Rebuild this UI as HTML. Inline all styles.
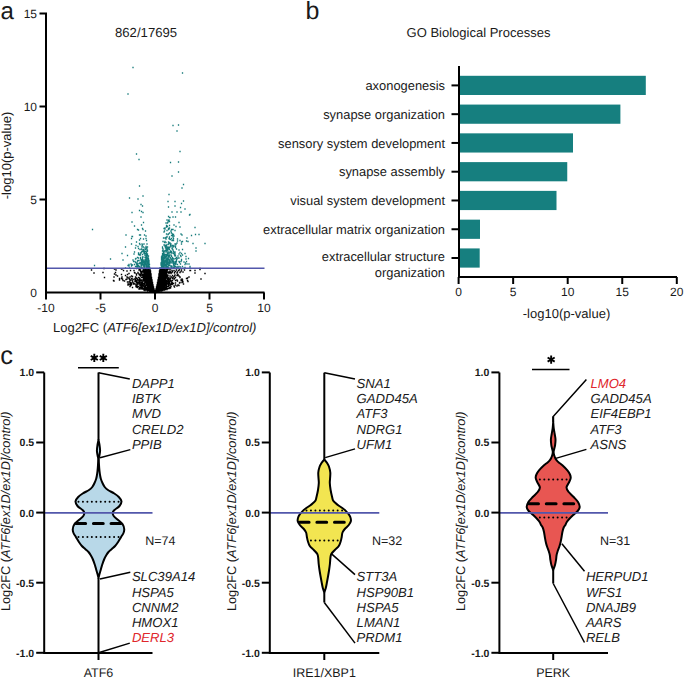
<!DOCTYPE html>
<html><head><meta charset="utf-8"><style>
html,body{margin:0;padding:0;background:#fff;width:685px;height:680px;overflow:hidden}
svg{display:block}
text{font-family:"Liberation Sans", sans-serif;text-rendering:geometricPrecision}
</style></head><body>
<svg width="685" height="680" viewBox="0 0 685 680">
<rect width="685" height="680" fill="#fff"/>
<path d="M91.5 270h.01M94 273h.01M103 272.5h.01M104 268.5h.01M104.5 277.5h.01M113.5 280.5h.01M114 277h.01M114 281h.01M114.5 269h.01M114.5 274h.01M115.5 272.5h.01M116 270h.01M116 275h.01M117.5 276h.01M119.5 278.5h.01M119.5 280h.01M121.5 269h.01M121.5 274.5h.01M121.5 278.5h.01M122 269h.01M122 277h.01M122.5 279h.01M123 280.5h.01M123.5 270.5h.01M124.5 281h.01M125.5 275.5h.01M126 279.5h.01M127 271h.01M127 277h.01M127 279h.01M127.5 274.5h.01M127.5 282h.01M128 277.5h.01M128 282h.01M128 284h.01M128 285h.01M129 273.5h.01M129 278.5h.01M129 284h.01M129 284.5h.01M129.5 279h.01M129.5 282h.01M130 277h.01M130 280.5h.01M130 286.5h.01M130.5 270.5h.01M130.5 282.5h.01M130.5 284h.01M130.5 285.5h.01M131 280h.01M131 285h.01M131.5 276h.01M131.5 278.5h.01M131.5 283h.01M131.5 284.5h.01M132 278.5h.01M132.5 276.5h.01M132.5 281h.01M132.5 287.5h.01M133 279.5h.01M133 282.5h.01M133.5 284h.01M134 270.5h.01M134 283.5h.01M134.5 272.5h.01M134.5 279h.01M135 273h.01M135 281h.01M135 281.5h.01M135 284h.01M135.5 277h.01M135.5 279.5h.01M135.5 281.5h.01M136 277.5h.01M136 278h.01M136 280.5h.01M136 281.5h.01M136 285h.01M136 286.5h.01M136.5 268.5h.01M136.5 274h.01M136.5 275h.01M136.5 282.5h.01M136.5 287h.01M137 278.5h.01M137 281h.01M137 281.5h.01M137 284h.01M137 285.5h.01M137.5 279.5h.01M137.5 283h.01M137.5 284h.01M137.5 287h.01M137.5 287.5h.01M138 272.5h.01M138 273h.01M138.5 277.5h.01M138.5 280h.01M138.5 282.5h.01M138.5 286.5h.01M139 270h.01M139 274h.01M139 280.5h.01M139 281h.01M139 284h.01M139 289h.01M139.5 268.5h.01M139.5 270h.01M139.5 275h.01M139.5 278h.01M139.5 279h.01M139.5 283h.01M139.5 287.5h.01M139.5 288h.01M140 269.5h.01M140 279h.01M140 279.5h.01M140 280h.01M140 281.5h.01M140 283.5h.01M140 285.5h.01M140 287.5h.01M140 289h.01M140.5 270.5h.01M140.5 271.5h.01M140.5 274.5h.01M140.5 275.5h.01M140.5 276h.01M140.5 285h.01M140.5 287.5h.01M141 268.5h.01M141 272.5h.01M141 273h.01M141 280.5h.01M141 282.5h.01M141 285.5h.01M141 286.5h.01M141.5 271.5h.01M141.5 272.5h.01M141.5 277.5h.01M141.5 280h.01M141.5 283h.01M141.5 284.5h.01M141.5 287h.01M141.5 288.5h.01M142 274h.01M142 274.5h.01M142 275.5h.01M142 281.5h.01M142 282h.01M142 285h.01M142 289h.01M142.5 271.5h.01M142.5 272h.01M142.5 275h.01M142.5 277.5h.01M142.5 282.5h.01M142.5 284h.01M142.5 284.5h.01M142.5 285.5h.01M142.5 287.5h.01M142.5 289h.01M143 268.5h.01M143 270.5h.01M143 276h.01M143 276.5h.01M143 277h.01M143 280h.01M143 286h.01M143 286.5h.01M143 288.5h.01M143.5 270h.01M143.5 270.5h.01M143.5 271.5h.01M143.5 272h.01M143.5 274.5h.01M143.5 276.5h.01M143.5 277h.01M143.5 278h.01M143.5 279.5h.01M143.5 281h.01M143.5 283.5h.01M143.5 289h.01M144 269h.01M144 271h.01M144 271.5h.01M144 273h.01M144 273.5h.01M144 275h.01M144 276h.01M144 277.5h.01M144 278h.01M144 284h.01M144 285.5h.01M144 288.5h.01M144 290h.01M144.5 271.5h.01M144.5 272h.01M144.5 272.5h.01M144.5 273h.01M144.5 273.5h.01M144.5 275.5h.01M144.5 278h.01M144.5 279.5h.01M144.5 281h.01M144.5 283h.01M144.5 283.5h.01M144.5 284.5h.01M144.5 287h.01M144.5 287.5h.01M144.5 288h.01M144.5 288.5h.01M144.5 289h.01M144.5 289.5h.01M145 268.5h.01M145 270h.01M145 270.5h.01M145 271h.01M145 271.5h.01M145 272h.01M145 274h.01M145 274.5h.01M145 275.5h.01M145 276.5h.01M145 277h.01M145 277.5h.01M145 278h.01M145 278.5h.01M145 280.5h.01M145 282.5h.01M145 283h.01M145 287h.01M145 289.5h.01M145 290.5h.01M145.5 268.5h.01M145.5 270.5h.01M145.5 272h.01M145.5 273h.01M145.5 273.5h.01M145.5 274h.01M145.5 274.5h.01M145.5 275h.01M145.5 275.5h.01M145.5 276h.01M145.5 276.5h.01M145.5 277h.01M145.5 277.5h.01M145.5 278h.01M145.5 279h.01M145.5 279.5h.01M145.5 280h.01M145.5 280.5h.01M145.5 281.5h.01M145.5 282h.01M145.5 282.5h.01M145.5 283h.01M145.5 285h.01M145.5 286.5h.01M145.5 287h.01M145.5 287.5h.01M145.5 288h.01M145.5 288.5h.01M145.5 289h.01M146 269.5h.01M146 270h.01M146 270.5h.01M146 271h.01M146 271.5h.01M146 272h.01M146 273h.01M146 273.5h.01M146 274h.01M146 274.5h.01M146 275h.01M146 275.5h.01M146 276h.01M146 276.5h.01M146 277h.01M146 277.5h.01M146 278.5h.01M146 279h.01M146 281.5h.01M146 282h.01M146 283h.01M146 285h.01M146 289h.01M146.5 269h.01M146.5 269.5h.01M146.5 271h.01M146.5 271.5h.01M146.5 272h.01M146.5 272.5h.01M146.5 273h.01M146.5 273.5h.01M146.5 274h.01M146.5 274.5h.01M146.5 275h.01M146.5 275.5h.01M146.5 276h.01M146.5 276.5h.01M146.5 277h.01M146.5 277.5h.01M146.5 278h.01M146.5 278.5h.01M146.5 279h.01M146.5 279.5h.01M146.5 280h.01M146.5 281h.01M146.5 281.5h.01M146.5 282.5h.01M146.5 283.5h.01M146.5 284.5h.01M146.5 285h.01M146.5 287.5h.01M146.5 289h.01M146.5 290h.01M147 268.5h.01M147 269h.01M147 270.5h.01M147 271h.01M147 271.5h.01M147 272h.01M147 272.5h.01M147 273h.01M147 273.5h.01M147 274h.01M147 274.5h.01M147 275h.01M147 275.5h.01M147 276h.01M147 277h.01M147 277.5h.01M147 278h.01M147 278.5h.01M147 279h.01M147 279.5h.01M147 280.5h.01M147 281h.01M147 281.5h.01M147 283h.01M147 283.5h.01M147 285h.01M147 285.5h.01M147 287.5h.01M147 288.5h.01M147 289h.01M147 289.5h.01M147 290h.01M147.5 268.5h.01M147.5 269h.01M147.5 269.5h.01M147.5 270h.01M147.5 270.5h.01M147.5 271h.01M147.5 271.5h.01M147.5 272h.01M147.5 272.5h.01M147.5 273h.01M147.5 274h.01M147.5 275h.01M147.5 275.5h.01M147.5 276h.01M147.5 276.5h.01M147.5 277h.01M147.5 277.5h.01M147.5 278h.01M147.5 278.5h.01M147.5 279h.01M147.5 279.5h.01M147.5 280h.01M147.5 280.5h.01M147.5 281h.01M147.5 281.5h.01M147.5 282h.01M147.5 283.5h.01M147.5 284h.01M147.5 284.5h.01M147.5 285.5h.01M147.5 286h.01M147.5 287h.01M147.5 288h.01M147.5 289.5h.01M147.5 290h.01M147.5 290.5h.01M147.5 291h.01M148 268.5h.01M148 269h.01M148 269.5h.01M148 270h.01M148 270.5h.01M148 271h.01M148 271.5h.01M148 272h.01M148 272.5h.01M148 273h.01M148 273.5h.01M148 274h.01M148 274.5h.01M148 275.5h.01M148 276h.01M148 276.5h.01M148 277h.01M148 277.5h.01M148 278h.01M148 278.5h.01M148 279h.01M148 279.5h.01M148 280h.01M148 280.5h.01M148 281h.01M148 281.5h.01M148 282h.01M148 283h.01M148 284h.01M148 284.5h.01M148 285h.01M148 285.5h.01M148 286h.01M148 286.5h.01M148 287.5h.01M148 288.5h.01M148 289h.01M148 289.5h.01M148.5 268.5h.01M148.5 269h.01M148.5 269.5h.01M148.5 270h.01M148.5 270.5h.01M148.5 271h.01M148.5 271.5h.01M148.5 272h.01M148.5 272.5h.01M148.5 273h.01M148.5 273.5h.01M148.5 274h.01M148.5 274.5h.01M148.5 275h.01M148.5 275.5h.01M148.5 276h.01M148.5 276.5h.01M148.5 277h.01M148.5 277.5h.01M148.5 278h.01M148.5 278.5h.01M148.5 279h.01M148.5 279.5h.01M148.5 280h.01M148.5 280.5h.01M148.5 281.5h.01M148.5 282h.01M148.5 282.5h.01M148.5 283h.01M148.5 283.5h.01M148.5 284h.01M148.5 284.5h.01M148.5 285h.01M148.5 285.5h.01M148.5 286h.01M148.5 287h.01M148.5 288h.01M148.5 288.5h.01M148.5 289h.01M148.5 289.5h.01M148.5 290h.01M148.5 290.5h.01M149 268.5h.01M149 269h.01M149 269.5h.01M149 270h.01M149 270.5h.01M149 271h.01M149 271.5h.01M149 272h.01M149 272.5h.01M149 273h.01M149 273.5h.01M149 274h.01M149 274.5h.01M149 275h.01M149 275.5h.01M149 276h.01M149 276.5h.01M149 277h.01M149 277.5h.01M149 278h.01M149 278.5h.01M149 279h.01M149 279.5h.01M149 280h.01M149 280.5h.01M149 281h.01M149 281.5h.01M149 282h.01M149 282.5h.01M149 283h.01M149 283.5h.01M149 284h.01M149 284.5h.01M149 285h.01M149 285.5h.01M149 286h.01M149 286.5h.01M149 287h.01M149 287.5h.01M149 288.5h.01M149 289h.01M149 290h.01M149 290.5h.01M149.5 268.5h.01M149.5 269h.01M149.5 269.5h.01M149.5 270h.01M149.5 270.5h.01M149.5 271h.01M149.5 271.5h.01M149.5 272h.01M149.5 272.5h.01M149.5 273h.01M149.5 273.5h.01M149.5 274h.01M149.5 274.5h.01M149.5 275h.01M149.5 275.5h.01M149.5 276h.01M149.5 276.5h.01M149.5 277h.01M149.5 277.5h.01M149.5 278h.01M149.5 278.5h.01M149.5 279h.01M149.5 279.5h.01M149.5 280h.01M149.5 280.5h.01M149.5 281h.01M149.5 281.5h.01M149.5 282h.01M149.5 282.5h.01M149.5 283h.01M149.5 283.5h.01M149.5 284h.01M149.5 284.5h.01M149.5 285h.01M149.5 285.5h.01M149.5 286h.01M149.5 286.5h.01M149.5 287h.01M149.5 288h.01M149.5 289h.01M149.5 289.5h.01M149.5 290h.01M149.5 290.5h.01M149.5 291h.01M150 268.5h.01M150 269h.01M150 269.5h.01M150 270h.01M150 270.5h.01M150 271h.01M150 271.5h.01M150 272h.01M150 272.5h.01M150 273h.01M150 273.5h.01M150 274h.01M150 274.5h.01M150 275h.01M150 275.5h.01M150 276h.01M150 276.5h.01M150 277h.01M150 277.5h.01M150 278h.01M150 278.5h.01M150 279h.01M150 279.5h.01M150 280h.01M150 280.5h.01M150 281h.01M150 281.5h.01M150 282h.01M150 282.5h.01M150 283h.01M150 283.5h.01M150 284h.01M150 284.5h.01M150 285h.01M150 285.5h.01M150 286h.01M150 286.5h.01M150 287h.01M150 287.5h.01M150 288.5h.01M150 289h.01M150 289.5h.01M150 290h.01M150 290.5h.01M150 291h.01M150 291.5h.01M150.5 271h.01M150.5 271.5h.01M150.5 272h.01M150.5 272.5h.01M150.5 273h.01M150.5 273.5h.01M150.5 274h.01M150.5 274.5h.01M150.5 275h.01M150.5 275.5h.01M150.5 276h.01M150.5 276.5h.01M150.5 277h.01M150.5 277.5h.01M150.5 278h.01M150.5 278.5h.01M150.5 279h.01M150.5 279.5h.01M150.5 280h.01M150.5 280.5h.01M150.5 281h.01M150.5 281.5h.01M150.5 282h.01M150.5 282.5h.01M150.5 283h.01M150.5 283.5h.01M150.5 284h.01M150.5 284.5h.01M150.5 285h.01M150.5 285.5h.01M150.5 286h.01M150.5 286.5h.01M150.5 287h.01M150.5 287.5h.01M150.5 288h.01M150.5 288.5h.01M150.5 289h.01M150.5 289.5h.01M150.5 290h.01M150.5 290.5h.01M150.5 291.5h.01M151 274h.01M151 274.5h.01M151 275h.01M151 275.5h.01M151 276h.01M151 276.5h.01M151 277h.01M151 277.5h.01M151 278h.01M151 278.5h.01M151 279h.01M151 279.5h.01M151 280h.01M151 280.5h.01M151 281h.01M151 281.5h.01M151 282h.01M151 282.5h.01M151 283h.01M151 283.5h.01M151 284h.01M151 284.5h.01M151 285h.01M151 285.5h.01M151 286h.01M151 286.5h.01M151 287h.01M151 287.5h.01M151 288h.01M151 288.5h.01M151 289h.01M151 289.5h.01M151 290h.01M151 290.5h.01M151 291h.01M151 291.5h.01M151.5 277.5h.01M151.5 278h.01M151.5 278.5h.01M151.5 279h.01M151.5 279.5h.01M151.5 280h.01M151.5 280.5h.01M151.5 281h.01M151.5 281.5h.01M151.5 282h.01M151.5 282.5h.01M151.5 283h.01M151.5 283.5h.01M151.5 284h.01M151.5 284.5h.01M151.5 285h.01M151.5 285.5h.01M151.5 286h.01M151.5 286.5h.01M151.5 287h.01M151.5 287.5h.01M151.5 288h.01M151.5 288.5h.01M151.5 289h.01M151.5 289.5h.01M151.5 290h.01M151.5 290.5h.01M151.5 291h.01M151.5 291.5h.01M152 280h.01M152 280.5h.01M152 281h.01M152 281.5h.01M152 282h.01M152 282.5h.01M152 283h.01M152 283.5h.01M152 284h.01M152 284.5h.01M152 285h.01M152 285.5h.01M152 286h.01M152 286.5h.01M152 287h.01M152 287.5h.01M152 288h.01M152 288.5h.01M152 289h.01M152 289.5h.01M152 290h.01M152 290.5h.01M152 291h.01M152 291.5h.01M152 292h.01M152.5 282.5h.01M152.5 283h.01M152.5 283.5h.01M152.5 284h.01M152.5 284.5h.01M152.5 285h.01M152.5 285.5h.01M152.5 286h.01M152.5 286.5h.01M152.5 287h.01M152.5 287.5h.01M152.5 288h.01M152.5 288.5h.01M152.5 289h.01M152.5 289.5h.01M152.5 290h.01M152.5 290.5h.01M152.5 291h.01M152.5 291.5h.01M153 285h.01M153 285.5h.01M153 286h.01M153 286.5h.01M153 287h.01M153 287.5h.01M153 288h.01M153 288.5h.01M153 289h.01M153 289.5h.01M153 290h.01M153 290.5h.01M153 291h.01M153 291.5h.01M153 292h.01M153.5 287h.01M153.5 287.5h.01M153.5 288h.01M153.5 288.5h.01M153.5 289h.01M153.5 289.5h.01M153.5 290h.01M153.5 290.5h.01M153.5 291h.01M153.5 291.5h.01M153.5 292h.01M154 289h.01M154 289.5h.01M154 290h.01M154 290.5h.01M154 291h.01M154 291.5h.01M154 292h.01M154.5 290.5h.01M154.5 291h.01M154.5 291.5h.01M154.5 292h.01M154.5 292.5h.01M155 292h.01M155 292.5h.01M155.5 290.5h.01M155.5 291h.01M155.5 291.5h.01M155.5 292h.01M155.5 292.5h.01M156 289h.01M156 289.5h.01M156 290h.01M156 290.5h.01M156 291h.01M156 291.5h.01M156 292h.01M156 292.5h.01M156.5 287h.01M156.5 287.5h.01M156.5 288h.01M156.5 288.5h.01M156.5 289h.01M156.5 289.5h.01M156.5 290h.01M156.5 290.5h.01M156.5 291h.01M156.5 291.5h.01M156.5 292h.01M157 285h.01M157 285.5h.01M157 286h.01M157 286.5h.01M157 287h.01M157 287.5h.01M157 288h.01M157 288.5h.01M157 289h.01M157 289.5h.01M157 290h.01M157 290.5h.01M157 291h.01M157 291.5h.01M157 292h.01M157.5 282.5h.01M157.5 283h.01M157.5 283.5h.01M157.5 284h.01M157.5 284.5h.01M157.5 285h.01M157.5 285.5h.01M157.5 286h.01M157.5 286.5h.01M157.5 287h.01M157.5 287.5h.01M157.5 288h.01M157.5 288.5h.01M157.5 289h.01M157.5 289.5h.01M157.5 290h.01M157.5 290.5h.01M157.5 291h.01M157.5 291.5h.01M158 280h.01M158 280.5h.01M158 281h.01M158 281.5h.01M158 282h.01M158 282.5h.01M158 283h.01M158 283.5h.01M158 284h.01M158 284.5h.01M158 285h.01M158 285.5h.01M158 286h.01M158 286.5h.01M158 287h.01M158 287.5h.01M158 288h.01M158 288.5h.01M158 289h.01M158 289.5h.01M158 290h.01M158 290.5h.01M158 291h.01M158 291.5h.01M158 292h.01M158.5 277.5h.01M158.5 278h.01M158.5 278.5h.01M158.5 279h.01M158.5 279.5h.01M158.5 280h.01M158.5 280.5h.01M158.5 281h.01M158.5 281.5h.01M158.5 282h.01M158.5 282.5h.01M158.5 283h.01M158.5 283.5h.01M158.5 284h.01M158.5 284.5h.01M158.5 285h.01M158.5 285.5h.01M158.5 286h.01M158.5 286.5h.01M158.5 287h.01M158.5 287.5h.01M158.5 288h.01M158.5 288.5h.01M158.5 289h.01M158.5 289.5h.01M158.5 290h.01M158.5 290.5h.01M158.5 291h.01M158.5 291.5h.01M159 274h.01M159 274.5h.01M159 275h.01M159 275.5h.01M159 276h.01M159 276.5h.01M159 277h.01M159 277.5h.01M159 278h.01M159 278.5h.01M159 279h.01M159 279.5h.01M159 280h.01M159 280.5h.01M159 281h.01M159 281.5h.01M159 282h.01M159 282.5h.01M159 283h.01M159 283.5h.01M159 284h.01M159 284.5h.01M159 285h.01M159 285.5h.01M159 286h.01M159 286.5h.01M159 287h.01M159 287.5h.01M159 288h.01M159 288.5h.01M159 289h.01M159 289.5h.01M159 290h.01M159 291h.01M159 291.5h.01M159.5 271h.01M159.5 271.5h.01M159.5 272h.01M159.5 272.5h.01M159.5 273h.01M159.5 273.5h.01M159.5 274h.01M159.5 274.5h.01M159.5 275h.01M159.5 275.5h.01M159.5 276h.01M159.5 276.5h.01M159.5 277h.01M159.5 277.5h.01M159.5 278h.01M159.5 278.5h.01M159.5 279h.01M159.5 279.5h.01M159.5 280h.01M159.5 280.5h.01M159.5 281h.01M159.5 281.5h.01M159.5 282h.01M159.5 282.5h.01M159.5 283h.01M159.5 283.5h.01M159.5 284h.01M159.5 284.5h.01M159.5 285h.01M159.5 285.5h.01M159.5 286h.01M159.5 286.5h.01M159.5 287h.01M159.5 287.5h.01M159.5 288h.01M159.5 288.5h.01M159.5 289h.01M159.5 290h.01M160 268.5h.01M160 269h.01M160 269.5h.01M160 270h.01M160 270.5h.01M160 271h.01M160 271.5h.01M160 272h.01M160 272.5h.01M160 273h.01M160 273.5h.01M160 274h.01M160 274.5h.01M160 275h.01M160 275.5h.01M160 276h.01M160 276.5h.01M160 277h.01M160 277.5h.01M160 278h.01M160 278.5h.01M160 279h.01M160 279.5h.01M160 280h.01M160 280.5h.01M160 281h.01M160 281.5h.01M160 282h.01M160 282.5h.01M160 283h.01M160 283.5h.01M160 284h.01M160 284.5h.01M160 285h.01M160 285.5h.01M160 286h.01M160 286.5h.01M160 287h.01M160 288h.01M160 288.5h.01M160 289h.01M160 290h.01M160 291h.01M160.5 268.5h.01M160.5 269h.01M160.5 269.5h.01M160.5 270h.01M160.5 270.5h.01M160.5 271h.01M160.5 271.5h.01M160.5 272h.01M160.5 272.5h.01M160.5 273h.01M160.5 273.5h.01M160.5 274h.01M160.5 274.5h.01M160.5 275h.01M160.5 275.5h.01M160.5 276h.01M160.5 276.5h.01M160.5 277h.01M160.5 277.5h.01M160.5 278h.01M160.5 278.5h.01M160.5 279h.01M160.5 279.5h.01M160.5 280h.01M160.5 280.5h.01M160.5 281h.01M160.5 281.5h.01M160.5 282h.01M160.5 282.5h.01M160.5 283h.01M160.5 283.5h.01M160.5 284h.01M160.5 284.5h.01M160.5 285h.01M160.5 285.5h.01M160.5 286h.01M160.5 286.5h.01M160.5 287h.01M160.5 287.5h.01M160.5 288h.01M160.5 288.5h.01M160.5 289.5h.01M160.5 290h.01M161 268.5h.01M161 269h.01M161 269.5h.01M161 270h.01M161 270.5h.01M161 271h.01M161 271.5h.01M161 272h.01M161 272.5h.01M161 273h.01M161 273.5h.01M161 274h.01M161 274.5h.01M161 275h.01M161 275.5h.01M161 276h.01M161 276.5h.01M161 277h.01M161 277.5h.01M161 278h.01M161 278.5h.01M161 279h.01M161 279.5h.01M161 280h.01M161 280.5h.01M161 281h.01M161 281.5h.01M161 282h.01M161 282.5h.01M161 283h.01M161 283.5h.01M161 284h.01M161 284.5h.01M161 285.5h.01M161 286h.01M161 286.5h.01M161 287.5h.01M161 288h.01M161 288.5h.01M161 289h.01M161 289.5h.01M161 290h.01M161 290.5h.01M161 291h.01M161.5 268.5h.01M161.5 269h.01M161.5 269.5h.01M161.5 270h.01M161.5 270.5h.01M161.5 271h.01M161.5 271.5h.01M161.5 272h.01M161.5 272.5h.01M161.5 273h.01M161.5 273.5h.01M161.5 274h.01M161.5 274.5h.01M161.5 275h.01M161.5 275.5h.01M161.5 276h.01M161.5 276.5h.01M161.5 277h.01M161.5 277.5h.01M161.5 278h.01M161.5 278.5h.01M161.5 279h.01M161.5 279.5h.01M161.5 280h.01M161.5 280.5h.01M161.5 281h.01M161.5 281.5h.01M161.5 282h.01M161.5 282.5h.01M161.5 283h.01M161.5 283.5h.01M161.5 284h.01M161.5 284.5h.01M161.5 285h.01M161.5 285.5h.01M161.5 286h.01M161.5 287h.01M161.5 288h.01M161.5 289h.01M161.5 289.5h.01M161.5 290.5h.01M161.5 291h.01M162 268.5h.01M162 269h.01M162 269.5h.01M162 270h.01M162 270.5h.01M162 271h.01M162 272h.01M162 272.5h.01M162 273h.01M162 273.5h.01M162 274h.01M162 274.5h.01M162 275h.01M162 275.5h.01M162 276h.01M162 276.5h.01M162 277h.01M162 277.5h.01M162 278h.01M162 278.5h.01M162 279h.01M162 279.5h.01M162 280h.01M162 280.5h.01M162 281h.01M162 281.5h.01M162 282h.01M162 282.5h.01M162 283h.01M162 283.5h.01M162 284.5h.01M162 285h.01M162 285.5h.01M162 286h.01M162 286.5h.01M162 287.5h.01M162 288h.01M162 290h.01M162 290.5h.01M162.5 268.5h.01M162.5 269h.01M162.5 269.5h.01M162.5 270.5h.01M162.5 271.5h.01M162.5 272h.01M162.5 272.5h.01M162.5 273h.01M162.5 273.5h.01M162.5 274h.01M162.5 274.5h.01M162.5 275h.01M162.5 275.5h.01M162.5 276h.01M162.5 276.5h.01M162.5 277h.01M162.5 277.5h.01M162.5 278h.01M162.5 278.5h.01M162.5 279h.01M162.5 279.5h.01M162.5 280h.01M162.5 281h.01M162.5 281.5h.01M162.5 282h.01M162.5 283.5h.01M162.5 284h.01M162.5 284.5h.01M162.5 285.5h.01M162.5 287h.01M162.5 290h.01M162.5 290.5h.01M163 269h.01M163 269.5h.01M163 270h.01M163 270.5h.01M163 271h.01M163 271.5h.01M163 272h.01M163 273h.01M163 273.5h.01M163 274h.01M163 274.5h.01M163 275h.01M163 275.5h.01M163 276h.01M163 277h.01M163 277.5h.01M163 278h.01M163 278.5h.01M163 279h.01M163 279.5h.01M163 280h.01M163 280.5h.01M163 281.5h.01M163 282h.01M163 285.5h.01M163 286.5h.01M163 287.5h.01M163 288h.01M163 288.5h.01M163 289h.01M163.5 269h.01M163.5 270.5h.01M163.5 271h.01M163.5 271.5h.01M163.5 272h.01M163.5 273h.01M163.5 273.5h.01M163.5 274h.01M163.5 275.5h.01M163.5 276h.01M163.5 277.5h.01M163.5 278h.01M163.5 278.5h.01M163.5 280h.01M163.5 280.5h.01M163.5 281.5h.01M163.5 282h.01M163.5 283h.01M163.5 284.5h.01M163.5 286h.01M163.5 287h.01M163.5 288.5h.01M163.5 289h.01M163.5 289.5h.01M163.5 290h.01M164 268.5h.01M164 270h.01M164 270.5h.01M164 271h.01M164 272.5h.01M164 273h.01M164 274.5h.01M164 275h.01M164 275.5h.01M164 276h.01M164 277h.01M164 277.5h.01M164 278h.01M164 278.5h.01M164 279h.01M164 279.5h.01M164 280.5h.01M164 281h.01M164 281.5h.01M164 282h.01M164 282.5h.01M164 283h.01M164 284h.01M164 285.5h.01M164 286.5h.01M164 287.5h.01M164 288.5h.01M164 289h.01M164.5 270h.01M164.5 271h.01M164.5 271.5h.01M164.5 272h.01M164.5 273h.01M164.5 273.5h.01M164.5 276h.01M164.5 276.5h.01M164.5 277h.01M164.5 277.5h.01M164.5 278h.01M164.5 278.5h.01M164.5 280h.01M164.5 280.5h.01M164.5 281h.01M164.5 281.5h.01M164.5 282h.01M164.5 283.5h.01M164.5 285h.01M164.5 286h.01M164.5 288h.01M164.5 289.5h.01M164.5 290h.01M165 269h.01M165 271h.01M165 271.5h.01M165 272h.01M165 272.5h.01M165 274.5h.01M165 276h.01M165 276.5h.01M165 277h.01M165 277.5h.01M165 278.5h.01M165 279h.01M165 279.5h.01M165 280h.01M165 280.5h.01M165 281h.01M165 283h.01M165 285.5h.01M165 287.5h.01M165 288h.01M165.5 268.5h.01M165.5 270h.01M165.5 271.5h.01M165.5 272.5h.01M165.5 273.5h.01M165.5 274.5h.01M165.5 276h.01M165.5 278h.01M165.5 278.5h.01M165.5 279h.01M165.5 281h.01M165.5 281.5h.01M165.5 284.5h.01M165.5 285h.01M165.5 285.5h.01M165.5 288h.01M165.5 289.5h.01M166 269.5h.01M166 270h.01M166 270.5h.01M166 273.5h.01M166 274h.01M166 274.5h.01M166 275.5h.01M166 276.5h.01M166 277h.01M166 277.5h.01M166 278.5h.01M166 282.5h.01M166 283.5h.01M166 284h.01M166 285h.01M166 286h.01M166 287h.01M166 287.5h.01M166.5 269.5h.01M166.5 271h.01M166.5 272.5h.01M166.5 274h.01M166.5 277h.01M166.5 277.5h.01M166.5 280.5h.01M166.5 281h.01M166.5 283h.01M166.5 284h.01M166.5 285.5h.01M166.5 287h.01M166.5 288h.01M167 270.5h.01M167 271.5h.01M167 274.5h.01M167 275.5h.01M167 276.5h.01M167 284h.01M167 288.5h.01M167 289.5h.01M167.5 269h.01M167.5 270h.01M167.5 276h.01M167.5 279h.01M167.5 279.5h.01M167.5 281.5h.01M167.5 283.5h.01M167.5 286.5h.01M168 269h.01M168 272.5h.01M168 275.5h.01M168 277.5h.01M168 281h.01M168 281.5h.01M168 283h.01M168 283.5h.01M168 284h.01M168 288.5h.01M168.5 272h.01M168.5 278h.01M168.5 280h.01M168.5 280.5h.01M168.5 284h.01M168.5 285h.01M168.5 286.5h.01M169 272h.01M169 273h.01M169 273.5h.01M169 279.5h.01M169 282h.01M169 288.5h.01M169.5 269h.01M169.5 272.5h.01M169.5 279.5h.01M169.5 283h.01M169.5 287.5h.01M170 271h.01M170 276h.01M170 278h.01M170 279h.01M170 281h.01M170 281.5h.01M170 284h.01M170 285h.01M170 285.5h.01M170.5 269h.01M170.5 272h.01M170.5 278.5h.01M170.5 280.5h.01M170.5 288h.01M171 273.5h.01M171 284.5h.01M171 286.5h.01M171.5 277h.01M171.5 281h.01M171.5 283h.01M171.5 284h.01M172 270.5h.01M172 272.5h.01M172 282.5h.01M172 284.5h.01M172.5 271.5h.01M172.5 275.5h.01M172.5 278h.01M172.5 278.5h.01M172.5 280.5h.01M172.5 283h.01M172.5 284h.01M173.5 277h.01M173.5 283.5h.01M174 270.5h.01M174 279h.01M174 286h.01M174.5 272.5h.01M174.5 273h.01M174.5 276h.01M174.5 278.5h.01M174.5 287h.01M175 275h.01M175.5 271.5h.01M175.5 277.5h.01M175.5 280.5h.01M175.5 283h.01M175.5 285h.01M176.5 270h.01M177 273h.01M177 275.5h.01M177 280h.01M177 286h.01M177.5 272h.01M177.5 275h.01M177.5 275.5h.01M177.5 281h.01M178 274.5h.01M178 285h.01M178.5 270.5h.01M179 270.5h.01M179 276h.01M179 285.5h.01M179.5 269h.01M179.5 283h.01M180 272.5h.01M180 277h.01M180 277.5h.01M180 282.5h.01M181 271.5h.01M181 280h.01M181.5 270h.01M181.5 280.5h.01M182 279h.01M182 282.5h.01M182.5 280h.01M182.5 281h.01M183 272h.01M183 282h.01M183.5 284h.01M184.5 270h.01M186.5 278.5h.01M187 278.5h.01M187.5 278h.01M187.5 280.5h.01M188 281.5h.01M189 277h.01M190 270.5h.01M190.5 270.5h.01M195 270.5h.01M195 273h.01M200 268.5h.01M200 269.5h.01M201 279h.01M205 273.5h.01" stroke="#000" stroke-width="1.4" stroke-linecap="square" fill="none"/>
<path d="M92.5 229.5h.01M94.5 265.5h.01M110.5 259h.01M122 253.5h.01M123 260h.01M125.5 247h.01M125.5 268h.01M126 235h.01M127.5 255.5h.01M128 94h.01M128 265.5h.01M129 264.5h.01M129 266h.01M129.5 198h.01M129.5 268h.01M131 264h.01M131.5 238.5h.01M131.5 244h.01M131.5 265h.01M131.5 266h.01M132 212.5h.01M132 222h.01M132 236.5h.01M132.5 236.5h.01M132.5 265h.01M133 67.5h.01M133 260h.01M133.5 261.5h.01M134 254h.01M134.5 226h.01M134.5 252h.01M134.5 264.5h.01M135 261.5h.01M135.5 248h.01M135.5 259h.01M135.5 262.5h.01M135.5 266.5h.01M136 245.5h.01M136 258.5h.01M136.5 154h.01M136.5 242h.01M136.5 264h.01M136.5 266.5h.01M137 262.5h.01M137 263.5h.01M137 264h.01M137 265h.01M137.5 229.5h.01M137.5 257.5h.01M137.5 261h.01M137.5 264h.01M137.5 265.5h.01M137.5 267h.01M138 199h.01M138 246.5h.01M138 260.5h.01M138 266h.01M138.5 230h.01M138.5 248.5h.01M138.5 253h.01M138.5 254.5h.01M138.5 258h.01M138.5 265.5h.01M139 159.5h.01M139 260.5h.01M139 263.5h.01M139 267h.01M139.5 186h.01M139.5 210.5h.01M139.5 235h.01M139.5 240h.01M139.5 243.5h.01M139.5 254.5h.01M139.5 255h.01M139.5 266.5h.01M140 244.5h.01M140 249.5h.01M140 254.5h.01M140 262.5h.01M140 263.5h.01M140.5 235h.01M140.5 238.5h.01M140.5 253h.01M140.5 255h.01M140.5 257.5h.01M140.5 258.5h.01M141 204.5h.01M141 217h.01M141 253h.01M141 260h.01M141 263h.01M141 265h.01M141 267h.01M141 267.5h.01M141.5 211.5h.01M141.5 225h.01M141.5 249h.01M141.5 252h.01M141.5 259.5h.01M141.5 261.5h.01M141.5 263h.01M141.5 264.5h.01M141.5 265.5h.01M142 244h.01M142 246h.01M142 247h.01M142 249.5h.01M142 251.5h.01M142 260h.01M142 263.5h.01M142 265h.01M142 267.5h.01M142 268h.01M142.5 206h.01M142.5 228.5h.01M142.5 245h.01M142.5 251.5h.01M142.5 254.5h.01M142.5 257h.01M142.5 258h.01M142.5 259h.01M142.5 259.5h.01M142.5 261h.01M142.5 262h.01M142.5 264h.01M143 196h.01M143 212.5h.01M143 229.5h.01M143 251h.01M143 251.5h.01M143 257h.01M143 261.5h.01M143 262.5h.01M143 264.5h.01M143.5 222.5h.01M143.5 239h.01M143.5 247h.01M143.5 249.5h.01M143.5 261h.01M143.5 265h.01M143.5 265.5h.01M143.5 266h.01M144 244h.01M144 250h.01M144 251.5h.01M144 252h.01M144 253.5h.01M144 260h.01M144 262h.01M144 263h.01M144 264h.01M144 267.5h.01M144 268.5h.01M144.5 235h.01M144.5 251.5h.01M144.5 253h.01M144.5 261.5h.01M144.5 265h.01M144.5 265.5h.01M144.5 267h.01M144.5 267.5h.01M145 248h.01M145 254h.01M145 255.5h.01M145 257.5h.01M145 262h.01M145 262.5h.01M145 263h.01M145 263.5h.01M145 264.5h.01M145 266.5h.01M145.5 231h.01M145.5 249.5h.01M145.5 251.5h.01M145.5 253.5h.01M145.5 257.5h.01M145.5 259.5h.01M145.5 260.5h.01M145.5 261h.01M145.5 263.5h.01M145.5 264h.01M146 236h.01M146 238.5h.01M146 246.5h.01M146 256h.01M146 256.5h.01M146 258h.01M146 259h.01M146 260.5h.01M146 262h.01M146 264h.01M146 264.5h.01M146 265h.01M146.5 240.5h.01M146.5 248h.01M146.5 252.5h.01M146.5 254h.01M146.5 255h.01M146.5 256h.01M146.5 257.5h.01M146.5 258h.01M146.5 259h.01M146.5 259.5h.01M146.5 260h.01M146.5 260.5h.01M146.5 261h.01M146.5 261.5h.01M146.5 264.5h.01M146.5 265.5h.01M146.5 266.5h.01M146.5 267h.01M146.5 267.5h.01M146.5 268h.01M147 244h.01M147 249h.01M147 250.5h.01M147 251.5h.01M147 254.5h.01M147 258.5h.01M147 262h.01M147 262.5h.01M147 263.5h.01M147 264h.01M147 266h.01M147 267h.01M147 267.5h.01M147 268h.01M147 268.5h.01M147.5 247h.01M147.5 250.5h.01M147.5 251h.01M147.5 254h.01M147.5 255.5h.01M147.5 258h.01M147.5 258.5h.01M147.5 259h.01M147.5 261h.01M147.5 261.5h.01M147.5 262h.01M147.5 264h.01M147.5 267h.01M147.5 267.5h.01M147.5 268h.01M148 256h.01M148 257h.01M148 259h.01M148 259.5h.01M148 261h.01M148 262h.01M148 263h.01M148 264h.01M148 264.5h.01M148 266h.01M148 267h.01M148 267.5h.01M148 268h.01M148.5 256h.01M148.5 258.5h.01M148.5 259h.01M148.5 259.5h.01M148.5 262.5h.01M148.5 263h.01M148.5 263.5h.01M148.5 264h.01M148.5 264.5h.01M148.5 265.5h.01M148.5 266h.01M148.5 266.5h.01M149 260.5h.01M149 262h.01M149 262.5h.01M149 263h.01M149 263.5h.01M149 265.5h.01M149 266h.01M149 267.5h.01M149.5 264.5h.01M149.5 267h.01M149.5 268h.01M149.5 268.5h.01M160 268h.01M161 263h.01M161 263.5h.01M161 265h.01M161 268h.01M161.5 257h.01M161.5 258.5h.01M161.5 259.5h.01M161.5 260h.01M161.5 262h.01M161.5 265h.01M161.5 266h.01M161.5 266.5h.01M161.5 267h.01M161.5 267.5h.01M162 256h.01M162 259h.01M162 260.5h.01M162 261.5h.01M162 262h.01M162 262.5h.01M162 263.5h.01M162 265h.01M162 266h.01M162 267h.01M162 267.5h.01M162 268h.01M162.5 247h.01M162.5 248h.01M162.5 251h.01M162.5 253.5h.01M162.5 255h.01M162.5 255.5h.01M162.5 256.5h.01M162.5 257h.01M162.5 258.5h.01M162.5 259.5h.01M162.5 260.5h.01M162.5 261.5h.01M162.5 265h.01M162.5 265.5h.01M163 241.5h.01M163 249h.01M163 250h.01M163 250.5h.01M163 253.5h.01M163 257h.01M163 257.5h.01M163 261h.01M163 261.5h.01M163 262.5h.01M163 263h.01M163 263.5h.01M163 264.5h.01M163 267h.01M163 267.5h.01M163 268h.01M163.5 238h.01M163.5 251.5h.01M163.5 252h.01M163.5 252.5h.01M163.5 255h.01M163.5 255.5h.01M163.5 258.5h.01M163.5 259h.01M163.5 259.5h.01M163.5 260h.01M163.5 261h.01M163.5 261.5h.01M163.5 265h.01M163.5 266.5h.01M163.5 267h.01M163.5 267.5h.01M163.5 268h.01M164 228.5h.01M164 232h.01M164 245h.01M164 251.5h.01M164 252h.01M164 252.5h.01M164 253h.01M164 253.5h.01M164 257.5h.01M164 258h.01M164 260h.01M164 261h.01M164 262h.01M164 262.5h.01M164 263h.01M164 263.5h.01M164 264h.01M164 266.5h.01M164 267h.01M164 267.5h.01M164.5 231h.01M164.5 242.5h.01M164.5 245h.01M164.5 251h.01M164.5 254.5h.01M164.5 255.5h.01M164.5 256.5h.01M164.5 257h.01M164.5 258.5h.01M164.5 261h.01M164.5 262h.01M164.5 263.5h.01M164.5 264.5h.01M164.5 265h.01M165 228h.01M165 229h.01M165 238h.01M165 241.5h.01M165 246.5h.01M165 258.5h.01M165 261.5h.01M165 263h.01M165 264h.01M165 264.5h.01M165 265.5h.01M165 266h.01M165 268h.01M165.5 238h.01M165.5 245.5h.01M165.5 246.5h.01M165.5 247h.01M165.5 248h.01M165.5 250.5h.01M165.5 254.5h.01M165.5 256.5h.01M165.5 257.5h.01M165.5 260.5h.01M165.5 261h.01M165.5 261.5h.01M165.5 262h.01M165.5 266h.01M165.5 268h.01M165.5 268.5h.01M166 223h.01M166 237.5h.01M166 239h.01M166 242.5h.01M166 246h.01M166 246.5h.01M166 250h.01M166 251h.01M166 252h.01M166 256h.01M166 256.5h.01M166 260h.01M166 261.5h.01M166 262h.01M166 264.5h.01M166 266.5h.01M166 267h.01M166 268h.01M166.5 225.5h.01M166.5 226h.01M166.5 227h.01M166.5 234h.01M166.5 245h.01M166.5 246h.01M166.5 248h.01M166.5 249.5h.01M166.5 251h.01M166.5 254.5h.01M166.5 256h.01M166.5 256.5h.01M166.5 259h.01M166.5 259.5h.01M166.5 260.5h.01M166.5 261h.01M166.5 262h.01M166.5 262.5h.01M166.5 263h.01M166.5 263.5h.01M166.5 264.5h.01M166.5 265.5h.01M166.5 268h.01M167 220h.01M167 226h.01M167 230.5h.01M167 236.5h.01M167 237h.01M167 254.5h.01M167 255h.01M167 256h.01M167 258h.01M167 262h.01M167 266.5h.01M167 267h.01M167 267.5h.01M167.5 223h.01M167.5 226.5h.01M167.5 247.5h.01M167.5 249h.01M167.5 250h.01M167.5 253h.01M167.5 255.5h.01M167.5 258h.01M167.5 259.5h.01M167.5 260.5h.01M167.5 261.5h.01M167.5 262.5h.01M167.5 263h.01M167.5 263.5h.01M167.5 264h.01M167.5 264.5h.01M168 201.5h.01M168 222h.01M168 234.5h.01M168 244.5h.01M168 247h.01M168 248.5h.01M168 249.5h.01M168 251.5h.01M168 253h.01M168 254h.01M168 258h.01M168 260.5h.01M168 266.5h.01M168 268h.01M168.5 207h.01M168.5 216.5h.01M168.5 220.5h.01M168.5 228.5h.01M168.5 229.5h.01M168.5 234h.01M168.5 242h.01M168.5 244h.01M168.5 255.5h.01M168.5 256h.01M168.5 256.5h.01M168.5 257h.01M168.5 259h.01M168.5 262.5h.01M168.5 263h.01M168.5 265h.01M168.5 267.5h.01M168.5 268h.01M169 194.5h.01M169 220h.01M169 229h.01M169 238.5h.01M169 242.5h.01M169 243.5h.01M169 247.5h.01M169 248h.01M169 248.5h.01M169 253h.01M169 259.5h.01M169 262h.01M169 264h.01M169 265.5h.01M169 268h.01M169.5 217.5h.01M169.5 221.5h.01M169.5 225.5h.01M169.5 228h.01M169.5 233h.01M169.5 237h.01M169.5 239h.01M169.5 243h.01M169.5 247.5h.01M169.5 249.5h.01M169.5 253h.01M169.5 255h.01M169.5 256h.01M169.5 260h.01M169.5 261.5h.01M169.5 262.5h.01M169.5 265.5h.01M170 217.5h.01M170 243h.01M170 247h.01M170 252h.01M170 257.5h.01M170 263.5h.01M170 265.5h.01M170.5 162.5h.01M170.5 239.5h.01M170.5 244.5h.01M170.5 246h.01M170.5 251h.01M170.5 252.5h.01M170.5 258h.01M170.5 262h.01M171 231h.01M171 231.5h.01M171 244h.01M171 252.5h.01M171 255h.01M171 259.5h.01M171 260.5h.01M171 262h.01M171 266.5h.01M171 267.5h.01M171.5 229.5h.01M171.5 233h.01M171.5 235.5h.01M171.5 238.5h.01M171.5 246h.01M171.5 251.5h.01M171.5 252h.01M171.5 253h.01M171.5 256h.01M171.5 256.5h.01M171.5 259h.01M171.5 266h.01M171.5 268h.01M172 176h.01M172 212h.01M172 229.5h.01M172 240.5h.01M172 248h.01M172 248.5h.01M172 253h.01M172 259.5h.01M172 263h.01M172 266.5h.01M172 268h.01M172.5 234h.01M172.5 235.5h.01M172.5 245.5h.01M172.5 249h.01M172.5 257.5h.01M172.5 258.5h.01M172.5 260.5h.01M172.5 261.5h.01M173 125.5h.01M173 217h.01M173 229.5h.01M173 237h.01M173 240h.01M173 240.5h.01M173 245.5h.01M173 246.5h.01M173 247h.01M173 250h.01M173 258.5h.01M173.5 234.5h.01M173.5 238.5h.01M173.5 240.5h.01M173.5 246h.01M173.5 246.5h.01M173.5 251.5h.01M173.5 253.5h.01M173.5 259h.01M173.5 261h.01M173.5 262.5h.01M173.5 263h.01M173.5 264h.01M173.5 265h.01M173.5 267.5h.01M174 225h.01M174 236h.01M174 252.5h.01M174 259h.01M174 263.5h.01M174 266.5h.01M174.5 254.5h.01M174.5 255h.01M174.5 266h.01M174.5 267h.01M174.5 267.5h.01M175 201.5h.01M175 206h.01M175 230.5h.01M175 244h.01M175 246h.01M175 252h.01M175 252.5h.01M175 254h.01M175 256h.01M175 262h.01M175 263.5h.01M175 264.5h.01M175.5 217h.01M175.5 246.5h.01M175.5 247.5h.01M175.5 255.5h.01M175.5 258.5h.01M175.5 261.5h.01M175.5 262h.01M175.5 266.5h.01M175.5 268.5h.01M176 226.5h.01M176 244h.01M176 244.5h.01M176 262.5h.01M176 264h.01M176.5 249h.01M176.5 257.5h.01M176.5 259.5h.01M176.5 260h.01M176.5 261.5h.01M176.5 268h.01M177 131h.01M177 212h.01M177 243h.01M177 259h.01M177 267h.01M177.5 239h.01M177.5 241h.01M177.5 264.5h.01M177.5 267h.01M178 256h.01M178 258h.01M178 267.5h.01M178.5 125h.01M178.5 162h.01M178.5 172h.01M179 222.5h.01M179 250h.01M179 254h.01M179 258h.01M179 261.5h.01M179 266.5h.01M179 268.5h.01M179.5 262h.01M179.5 262.5h.01M180 151.5h.01M180 227h.01M180 240.5h.01M180 252.5h.01M180.5 207.5h.01M180.5 255.5h.01M180.5 264h.01M180.5 267h.01M181 212h.01M181 234h.01M181 256.5h.01M181 261.5h.01M181.5 203.5h.01M181.5 242h.01M181.5 244h.01M181.5 253.5h.01M181.5 259.5h.01M181.5 260.5h.01M182 188h.01M182 235h.01M182.5 73h.01M182.5 241.5h.01M182.5 249.5h.01M182.5 255h.01M182.5 266.5h.01M183.5 184.5h.01M183.5 201h.01M183.5 268.5h.01M184 262h.01M185 209h.01M185 253.5h.01M185 264.5h.01M185 267.5h.01M185.5 263h.01M186 256.5h.01M186 259h.01M186.5 241h.01M186.5 261.5h.01M187 238h.01M187 264h.01M188 241.5h.01M188.5 258.5h.01M189 264h.01M189.5 215h.01M190 214.5h.01M190 266.5h.01M190 267.5h.01M191.5 235.5h.01M193 243.5h.01M195 227.5h.01M195.5 234.5h.01M196 248h.01M196 251h.01M199 234.5h.01M205 243.5h.01" stroke="#147a7a" stroke-width="1.3" stroke-linecap="square" fill="none"/>
<line x1="46" y1="268.25" x2="264.5" y2="268.25" stroke="#5257ab" stroke-width="1.6" />
<path d="M39.5 13.5H46V292.5H264.5" stroke="#000" stroke-width="2" fill="none"/>
<line x1="39.5" y1="199.5" x2="46" y2="199.5" stroke="#000" stroke-width="2" />
<line x1="39.5" y1="106.5" x2="46" y2="106.5" stroke="#000" stroke-width="2" />
<line x1="46.0" y1="292.5" x2="46.0" y2="299.5" stroke="#000" stroke-width="2" />
<line x1="100.5" y1="292.5" x2="100.5" y2="299.5" stroke="#000" stroke-width="2" />
<line x1="155.0" y1="292.5" x2="155.0" y2="299.5" stroke="#000" stroke-width="2" />
<line x1="209.5" y1="292.5" x2="209.5" y2="299.5" stroke="#000" stroke-width="2" />
<line x1="264.0" y1="292.5" x2="264.0" y2="299.5" stroke="#000" stroke-width="2" />
<text x="37" y="296.5" font-size="12" text-anchor="end" font-weight="normal" font-style="normal" fill="#1a1a1a" style="color:#1a1a1a" >0</text>
<text x="37" y="203.5" font-size="12" text-anchor="end" font-weight="normal" font-style="normal" fill="#1a1a1a" style="color:#1a1a1a" >5</text>
<text x="37" y="110.5" font-size="12" text-anchor="end" font-weight="normal" font-style="normal" fill="#1a1a1a" style="color:#1a1a1a" >10</text>
<text x="37" y="17.5" font-size="12" text-anchor="end" font-weight="normal" font-style="normal" fill="#1a1a1a" style="color:#1a1a1a" >15</text>
<text x="46.0" y="311.8" font-size="12" text-anchor="middle" font-weight="normal" font-style="normal" fill="#1a1a1a" style="color:#1a1a1a" >-10</text>
<text x="100.5" y="311.8" font-size="12" text-anchor="middle" font-weight="normal" font-style="normal" fill="#1a1a1a" style="color:#1a1a1a" >-5</text>
<text x="155.0" y="311.8" font-size="12" text-anchor="middle" font-weight="normal" font-style="normal" fill="#1a1a1a" style="color:#1a1a1a" >0</text>
<text x="209.5" y="311.8" font-size="12" text-anchor="middle" font-weight="normal" font-style="normal" fill="#1a1a1a" style="color:#1a1a1a" >5</text>
<text x="264.0" y="311.8" font-size="12" text-anchor="middle" font-weight="normal" font-style="normal" fill="#1a1a1a" style="color:#1a1a1a" >10</text>
<text x="154.7" y="331.7" font-size="13" text-anchor="middle" font-weight="normal" font-style="normal" fill="#1a1a1a" style="color:#1a1a1a" >Log2FC (<tspan font-style="italic">ATF6[ex1D/ex1D]/control)</tspan></text>
<text x="0" y="0" font-size="13" text-anchor="middle" font-weight="normal" font-style="normal" fill="#1a1a1a" style="color:#1a1a1a" transform="translate(10.5 155.5) rotate(-90)">-log10(p-value)</text>
<text x="115" y="37" font-size="13.15" text-anchor="start" font-weight="normal" font-style="normal" fill="#1a1a1a" style="color:#1a1a1a" >862/17695</text>
<text x="0.4" y="18.9" font-size="24" text-anchor="start" font-weight="normal" font-style="normal" fill="#1a1a1a" style="color:#1a1a1a" >a</text>
<text x="305.5" y="19.2" font-size="25" text-anchor="start" font-weight="normal" font-style="normal" fill="#1a1a1a" style="color:#1a1a1a" >b</text>
<text x="478.5" y="37" font-size="13" text-anchor="middle" font-weight="normal" font-style="normal" fill="#1a1a1a" style="color:#1a1a1a" >GO Biological Processes</text>
<rect x="459.5" y="75.80" width="186.30" height="19.2" fill="#167f7f"/>
<line x1="451.5" y1="85.4" x2="459.5" y2="85.4" stroke="#000" stroke-width="2" />
<text x="445" y="90.0" font-size="12.9" text-anchor="end" font-weight="normal" font-style="normal" fill="#1a1a1a" style="color:#1a1a1a" >axonogenesis</text>
<rect x="459.5" y="104.57" width="160.90" height="19.2" fill="#167f7f"/>
<line x1="451.5" y1="114.17" x2="459.5" y2="114.17" stroke="#000" stroke-width="2" />
<text x="445" y="118.77" font-size="12.9" text-anchor="end" font-weight="normal" font-style="normal" fill="#1a1a1a" style="color:#1a1a1a" >synapse organization</text>
<rect x="459.5" y="133.34" width="113.50" height="19.2" fill="#167f7f"/>
<line x1="451.5" y1="142.94" x2="459.5" y2="142.94" stroke="#000" stroke-width="2" />
<text x="445" y="147.54" font-size="12.9" text-anchor="end" font-weight="normal" font-style="normal" fill="#1a1a1a" style="color:#1a1a1a" >sensory system development</text>
<rect x="459.5" y="162.11" width="107.75" height="19.2" fill="#167f7f"/>
<line x1="451.5" y1="171.71" x2="459.5" y2="171.71" stroke="#000" stroke-width="2" />
<text x="445" y="176.31" font-size="12.9" text-anchor="end" font-weight="normal" font-style="normal" fill="#1a1a1a" style="color:#1a1a1a" >synapse assembly</text>
<rect x="459.5" y="190.88" width="97.00" height="19.2" fill="#167f7f"/>
<line x1="451.5" y1="200.48000000000002" x2="459.5" y2="200.48000000000002" stroke="#000" stroke-width="2" />
<text x="445" y="205.08" font-size="12.9" text-anchor="end" font-weight="normal" font-style="normal" fill="#1a1a1a" style="color:#1a1a1a" >visual system development</text>
<rect x="459.5" y="219.65" width="20.50" height="19.2" fill="#167f7f"/>
<line x1="451.5" y1="229.25" x2="459.5" y2="229.25" stroke="#000" stroke-width="2" />
<text x="445" y="233.85" font-size="12.9" text-anchor="end" font-weight="normal" font-style="normal" fill="#1a1a1a" style="color:#1a1a1a" >extracellular matrix organization</text>
<rect x="459.5" y="248.42" width="20.20" height="19.2" fill="#167f7f"/>
<line x1="451.5" y1="258.02" x2="459.5" y2="258.02" stroke="#000" stroke-width="2" />
<text x="445" y="261.32" font-size="12.9" text-anchor="end" font-weight="normal" font-style="normal" fill="#1a1a1a" style="color:#1a1a1a" >extracellular structure</text>
<text x="445" y="276.62" font-size="12.9" text-anchor="end" font-weight="normal" font-style="normal" fill="#1a1a1a" style="color:#1a1a1a" >organization</text>
<path d="M459 66V277H677" stroke="#000" stroke-width="2" fill="none"/>
<line x1="458.6" y1="277" x2="458.6" y2="284" stroke="#000" stroke-width="2" />
<text x="458.6" y="296" font-size="12" text-anchor="middle" font-weight="normal" font-style="normal" fill="#1a1a1a" style="color:#1a1a1a" >0</text>
<line x1="513.15" y1="277" x2="513.15" y2="284" stroke="#000" stroke-width="2" />
<text x="513.15" y="296" font-size="12" text-anchor="middle" font-weight="normal" font-style="normal" fill="#1a1a1a" style="color:#1a1a1a" >5</text>
<line x1="567.7" y1="277" x2="567.7" y2="284" stroke="#000" stroke-width="2" />
<text x="567.7" y="296" font-size="12" text-anchor="middle" font-weight="normal" font-style="normal" fill="#1a1a1a" style="color:#1a1a1a" >10</text>
<line x1="622.25" y1="277" x2="622.25" y2="284" stroke="#000" stroke-width="2" />
<text x="622.25" y="296" font-size="12" text-anchor="middle" font-weight="normal" font-style="normal" fill="#1a1a1a" style="color:#1a1a1a" >15</text>
<line x1="676.8" y1="277" x2="676.8" y2="284" stroke="#000" stroke-width="2" />
<text x="676.8" y="296" font-size="12" text-anchor="middle" font-weight="normal" font-style="normal" fill="#1a1a1a" style="color:#1a1a1a" >20</text>
<text x="566.5" y="318" font-size="13" text-anchor="middle" font-weight="normal" font-style="normal" fill="#1a1a1a" style="color:#1a1a1a" >-log10(p-value)</text>
<text x="0.3" y="364.4" font-size="25.5" text-anchor="start" font-weight="normal" font-style="normal" fill="#1a1a1a" style="color:#1a1a1a" >c</text>
<line x1="98.5" y1="372.5" x2="98.5" y2="440" stroke="#000" stroke-width="2" />
<line x1="98.5" y1="578" x2="98.5" y2="652.8" stroke="#000" stroke-width="2" />
<path d="M98.50 440.00C98.67 440.83 99.23 443.25 99.50 445.00C99.77 446.75 100.12 448.75 100.10 450.50C100.08 452.25 99.62 454.17 99.40 455.50C99.18 456.83 98.87 456.92 98.80 458.50C98.73 460.08 98.88 462.92 99.00 465.00C99.12 467.08 99.30 469.17 99.50 471.00C99.70 472.83 99.97 474.67 100.20 476.00C100.43 477.33 100.52 477.83 100.90 479.00C101.28 480.17 101.87 481.67 102.50 483.00C103.13 484.33 103.78 485.83 104.70 487.00C105.62 488.17 106.40 488.92 108.00 490.00C109.60 491.08 112.50 492.33 114.30 493.50C116.10 494.67 117.60 495.70 118.80 497.00C120.00 498.30 121.38 499.80 121.50 501.30C121.62 502.80 120.67 504.55 119.50 506.00C118.33 507.45 115.63 508.92 114.50 510.00C113.37 511.08 112.83 511.50 112.70 512.50C112.57 513.50 112.80 514.75 113.70 516.00C114.60 517.25 116.63 518.67 118.10 520.00C119.57 521.33 121.48 522.50 122.50 524.00C123.52 525.50 124.03 527.50 124.20 529.00C124.37 530.50 124.02 531.67 123.50 533.00C122.98 534.33 122.00 535.50 121.10 537.00C120.20 538.50 119.10 540.50 118.10 542.00C117.10 543.50 116.15 544.83 115.10 546.00C114.05 547.17 112.90 548.00 111.80 549.00C110.70 550.00 109.40 551.00 108.50 552.00C107.60 553.00 107.10 553.83 106.40 555.00C105.70 556.17 105.02 557.33 104.30 559.00C103.58 560.67 102.70 563.17 102.10 565.00C101.50 566.83 101.13 568.50 100.70 570.00C100.27 571.50 99.87 572.67 99.50 574.00C99.13 575.33 98.67 577.33 98.50 578.00L98.50 578.00C98.33 577.33 97.87 575.33 97.50 574.00C97.13 572.67 96.73 571.50 96.30 570.00C95.87 568.50 95.50 566.83 94.90 565.00C94.30 563.17 93.42 560.67 92.70 559.00C91.98 557.33 91.30 556.17 90.60 555.00C89.90 553.83 89.40 553.00 88.50 552.00C87.60 551.00 86.30 550.00 85.20 549.00C84.10 548.00 82.95 547.17 81.90 546.00C80.85 544.83 79.90 543.50 78.90 542.00C77.90 540.50 76.80 538.50 75.90 537.00C75.00 535.50 74.02 534.33 73.50 533.00C72.98 531.67 72.63 530.50 72.80 529.00C72.97 527.50 73.48 525.50 74.50 524.00C75.52 522.50 77.43 521.33 78.90 520.00C80.37 518.67 82.40 517.25 83.30 516.00C84.20 514.75 84.43 513.50 84.30 512.50C84.17 511.50 83.63 511.08 82.50 510.00C81.37 508.92 78.67 507.45 77.50 506.00C76.33 504.55 75.38 502.80 75.50 501.30C75.62 499.80 77.00 498.30 78.20 497.00C79.40 495.70 80.90 494.67 82.70 493.50C84.50 492.33 87.40 491.08 89.00 490.00C90.60 488.92 91.38 488.17 92.30 487.00C93.22 485.83 93.87 484.33 94.50 483.00C95.13 481.67 95.72 480.17 96.10 479.00C96.48 477.83 96.57 477.33 96.80 476.00C97.03 474.67 97.30 472.83 97.50 471.00C97.70 469.17 97.88 467.08 98.00 465.00C98.12 462.92 98.27 460.08 98.20 458.50C98.13 456.92 97.82 456.83 97.60 455.50C97.38 454.17 96.92 452.25 96.90 450.50C96.88 448.75 97.23 446.75 97.50 445.00C97.77 443.25 98.33 440.83 98.50 440.00Z" fill="#b8d8e8" stroke="#000" stroke-width="2" stroke-linejoin="round"/>
<line x1="44.2" y1="512.9" x2="152.5" y2="512.9" stroke="#5257ab" stroke-width="1.6" />
<path d="M78.47 501.8h.01M82.92 501.8h.01M87.38 501.8h.01M91.83 501.8h.01M96.28 501.8h.01M100.72 501.8h.01M105.17 501.8h.01M109.62 501.8h.01M114.08 501.8h.01M118.53 501.8h.01" stroke="#000" stroke-width="2.0" stroke-linecap="round" fill="none"/>
<path d="M78.47 536.9h.01M82.92 536.9h.01M87.38 536.9h.01M91.83 536.9h.01M96.28 536.9h.01M100.72 536.9h.01M105.17 536.9h.01M109.62 536.9h.01M114.08 536.9h.01M118.53 536.9h.01" stroke="#000" stroke-width="2.0" stroke-linecap="round" fill="none"/>
<line x1="75.83999999999997" y1="523.6" x2="121.16000000000003" y2="523.6" stroke="#000" stroke-width="3.0" stroke-dasharray="9.8 7.8" stroke-linecap="round"/>
<polyline points="98.5,372.7 98.5,372.7 129.8,378.9" stroke="#000" stroke-width="1.5" fill="none"/>
<line x1="100" y1="457.8" x2="130.3" y2="449.6" stroke="#000" stroke-width="1.5" />
<line x1="100" y1="579" x2="130.3" y2="572.3" stroke="#000" stroke-width="1.5" />
<polyline points="98.5,652.8 129.8,643.1" stroke="#000" stroke-width="1.5" fill="none"/>
<path d="M44.2 372.5V653H152.5" stroke="#000" stroke-width="2" fill="none"/>
<line x1="36.2" y1="372.40000000000003" x2="44.2" y2="372.40000000000003" stroke="#000" stroke-width="2" />
<text x="34.2" y="376.3" font-size="10.5" text-anchor="end" font-weight="bold" font-style="normal" fill="#1a1a1a" style="color:#1a1a1a" >1.0</text>
<line x1="36.2" y1="442.5" x2="44.2" y2="442.5" stroke="#000" stroke-width="2" />
<text x="34.2" y="446.4" font-size="10.5" text-anchor="end" font-weight="bold" font-style="normal" fill="#1a1a1a" style="color:#1a1a1a" >0.5</text>
<line x1="36.2" y1="512.6" x2="44.2" y2="512.6" stroke="#000" stroke-width="2" />
<text x="34.2" y="516.5" font-size="10.5" text-anchor="end" font-weight="bold" font-style="normal" fill="#1a1a1a" style="color:#1a1a1a" >0.0</text>
<line x1="36.2" y1="582.7" x2="44.2" y2="582.7" stroke="#000" stroke-width="2" />
<text x="34.2" y="586.6" font-size="10.5" text-anchor="end" font-weight="bold" font-style="normal" fill="#1a1a1a" style="color:#1a1a1a" >-0.5</text>
<line x1="36.2" y1="652.8" x2="44.2" y2="652.8" stroke="#000" stroke-width="2" />
<text x="34.2" y="656.6999999999999" font-size="10.5" text-anchor="end" font-weight="bold" font-style="normal" fill="#1a1a1a" style="color:#1a1a1a" >-1.0</text>
<line x1="98.5" y1="652.8" x2="98.5" y2="660" stroke="#000" stroke-width="2" />
<text x="98.5" y="676.6" font-size="12.5" text-anchor="middle" font-weight="normal" font-style="normal" fill="#1a1a1a" style="color:#1a1a1a" >ATF6</text>
<text x="145.2" y="544.5" font-size="12.5" text-anchor="start" font-weight="normal" font-style="normal" fill="#1a1a1a" style="color:#1a1a1a" >N=74</text>
<text x="0" y="0" font-size="12.75" text-anchor="middle" font-weight="normal" font-style="normal" fill="#1a1a1a" style="color:#1a1a1a" transform="translate(9.900000000000006 511.3) rotate(-90)">Log2FC (<tspan font-style="italic">ATF6[ex1D/ex1D]/control)</tspan></text>
<text x="131.9" y="387.6" font-size="13.1" text-anchor="start" font-weight="normal" font-style="italic" fill="#1a1a1a" style="color:#1a1a1a" >DAPP1</text>
<text x="131.9" y="402.9" font-size="13.1" text-anchor="start" font-weight="normal" font-style="italic" fill="#1a1a1a" style="color:#1a1a1a" >IBTK</text>
<text x="131.9" y="418.2" font-size="13.1" text-anchor="start" font-weight="normal" font-style="italic" fill="#1a1a1a" style="color:#1a1a1a" >MVD</text>
<text x="131.9" y="433.5" font-size="13.1" text-anchor="start" font-weight="normal" font-style="italic" fill="#1a1a1a" style="color:#1a1a1a" >CRELD2</text>
<text x="131.9" y="448.8" font-size="13.1" text-anchor="start" font-weight="normal" font-style="italic" fill="#1a1a1a" style="color:#1a1a1a" >PPIB</text>
<text x="131.9" y="581.3" font-size="13.1" text-anchor="start" font-weight="normal" font-style="italic" fill="#1a1a1a" style="color:#1a1a1a" >SLC39A14</text>
<text x="131.9" y="596.5" font-size="13.1" text-anchor="start" font-weight="normal" font-style="italic" fill="#1a1a1a" style="color:#1a1a1a" >HSPA5</text>
<text x="131.9" y="611.8" font-size="13.1" text-anchor="start" font-weight="normal" font-style="italic" fill="#1a1a1a" style="color:#1a1a1a" >CNNM2</text>
<text x="131.9" y="627.1" font-size="13.1" text-anchor="start" font-weight="normal" font-style="italic" fill="#1a1a1a" style="color:#1a1a1a" >HMOX1</text>
<text x="131.9" y="642.4" font-size="13.1" text-anchor="start" font-weight="normal" font-style="italic" fill="#e0262b" style="color:#e0262b" >DERL3</text>
<line x1="78" y1="367.8" x2="118.8" y2="367.8" stroke="#000" stroke-width="1.6" />
<path d="M94.30 353.80L94.30 362.00M90.75 355.85L97.85 359.95M97.85 355.85L90.75 359.95" stroke="#000" stroke-width="1.9" fill="none"/>
<path d="M103.30 353.80L103.30 362.00M99.75 355.85L106.85 359.95M106.85 355.85L99.75 359.95" stroke="#000" stroke-width="1.9" fill="none"/>
<line x1="324.3" y1="372.7" x2="324.3" y2="459.4" stroke="#000" stroke-width="2" />
<line x1="324.3" y1="592.5" x2="324.3" y2="602.5" stroke="#000" stroke-width="2" />
<path d="M324.30 459.40C324.77 460.00 326.30 461.73 327.10 463.00C327.90 464.27 328.57 465.42 329.10 467.00C329.63 468.58 330.13 470.67 330.30 472.50C330.47 474.33 330.18 476.25 330.10 478.00C330.02 479.75 329.72 481.00 329.80 483.00C329.88 485.00 330.22 487.67 330.60 490.00C330.98 492.33 331.68 495.25 332.10 497.00C332.52 498.75 332.53 499.50 333.10 500.50C333.67 501.50 334.60 502.17 335.50 503.00C336.40 503.83 337.37 504.67 338.50 505.50C339.63 506.33 341.13 507.15 342.30 508.00C343.47 508.85 344.47 509.60 345.50 510.60C346.53 511.60 347.70 512.93 348.50 514.00C349.30 515.07 349.90 515.83 350.30 517.00C350.70 518.17 351.15 519.67 350.90 521.00C350.65 522.33 349.82 523.67 348.80 525.00C347.78 526.33 345.85 527.75 344.80 529.00C343.75 530.25 343.02 531.17 342.50 532.50C341.98 533.83 341.98 535.58 341.70 537.00C341.42 538.42 341.28 539.50 340.80 541.00C340.32 542.50 339.80 544.50 338.80 546.00C337.80 547.50 336.05 548.67 334.80 550.00C333.55 551.33 332.03 552.67 331.30 554.00C330.57 555.33 330.63 556.33 330.40 558.00C330.17 559.67 330.12 562.00 329.90 564.00C329.68 566.00 329.40 568.00 329.10 570.00C328.80 572.00 328.45 574.00 328.10 576.00C327.75 578.00 327.38 580.00 327.00 582.00C326.62 584.00 326.25 586.25 325.80 588.00C325.35 589.75 324.55 591.75 324.30 592.50L324.30 592.50C324.05 591.75 323.25 589.75 322.80 588.00C322.35 586.25 321.98 584.00 321.60 582.00C321.22 580.00 320.85 578.00 320.50 576.00C320.15 574.00 319.80 572.00 319.50 570.00C319.20 568.00 318.92 566.00 318.70 564.00C318.48 562.00 318.43 559.67 318.20 558.00C317.97 556.33 318.03 555.33 317.30 554.00C316.57 552.67 315.05 551.33 313.80 550.00C312.55 548.67 310.80 547.50 309.80 546.00C308.80 544.50 308.28 542.50 307.80 541.00C307.32 539.50 307.18 538.42 306.90 537.00C306.62 535.58 306.62 533.83 306.10 532.50C305.58 531.17 304.85 530.25 303.80 529.00C302.75 527.75 300.82 526.33 299.80 525.00C298.78 523.67 297.95 522.33 297.70 521.00C297.45 519.67 297.90 518.17 298.30 517.00C298.70 515.83 299.30 515.07 300.10 514.00C300.90 512.93 302.07 511.60 303.10 510.60C304.13 509.60 305.13 508.85 306.30 508.00C307.47 507.15 308.97 506.33 310.10 505.50C311.23 504.67 312.20 503.83 313.10 503.00C314.00 502.17 314.93 501.50 315.50 500.50C316.07 499.50 316.08 498.75 316.50 497.00C316.92 495.25 317.62 492.33 318.00 490.00C318.38 487.67 318.72 485.00 318.80 483.00C318.88 481.00 318.58 479.75 318.50 478.00C318.42 476.25 318.13 474.33 318.30 472.50C318.47 470.67 318.97 468.58 319.50 467.00C320.03 465.42 320.70 464.27 321.50 463.00C322.30 461.73 323.83 460.00 324.30 459.40Z" fill="#f2e551" stroke="#000" stroke-width="2" stroke-linejoin="round"/>
<line x1="269.8" y1="512.9" x2="379.3" y2="512.9" stroke="#5257ab" stroke-width="1.6" />
<path d="M306.50 510.5h.01M310.95 510.5h.01M315.40 510.5h.01M319.85 510.5h.01M324.30 510.5h.01M328.75 510.5h.01M333.20 510.5h.01M337.65 510.5h.01M342.10 510.5h.01" stroke="#000" stroke-width="2.0" stroke-linecap="round" fill="none"/>
<path d="M310.95 540.4h.01M315.40 540.4h.01M319.85 540.4h.01M324.30 540.4h.01M328.75 540.4h.01M333.20 540.4h.01M337.65 540.4h.01" stroke="#000" stroke-width="2.0" stroke-linecap="round" fill="none"/>
<line x1="299.28249999999997" y1="522.3" x2="349.31750000000005" y2="522.3" stroke="#000" stroke-width="3.0" stroke-dasharray="9.8 7.8" stroke-linecap="round"/>
<polyline points="324.3,372.7 324.3,372.7 355,378.9" stroke="#000" stroke-width="1.5" fill="none"/>
<line x1="325.2" y1="457.6" x2="355" y2="448.9" stroke="#000" stroke-width="1.5" />
<line x1="331.3" y1="553.6" x2="355" y2="574.6" stroke="#000" stroke-width="1.5" />
<polyline points="324.3,602.5 355,643.1" stroke="#000" stroke-width="1.5" fill="none"/>
<path d="M269.8 372.5V653H379.3" stroke="#000" stroke-width="2" fill="none"/>
<line x1="261.8" y1="372.40000000000003" x2="269.8" y2="372.40000000000003" stroke="#000" stroke-width="2" />
<text x="259.8" y="376.3" font-size="10.5" text-anchor="end" font-weight="bold" font-style="normal" fill="#1a1a1a" style="color:#1a1a1a" >1.0</text>
<line x1="261.8" y1="442.5" x2="269.8" y2="442.5" stroke="#000" stroke-width="2" />
<text x="259.8" y="446.4" font-size="10.5" text-anchor="end" font-weight="bold" font-style="normal" fill="#1a1a1a" style="color:#1a1a1a" >0.5</text>
<line x1="261.8" y1="512.6" x2="269.8" y2="512.6" stroke="#000" stroke-width="2" />
<text x="259.8" y="516.5" font-size="10.5" text-anchor="end" font-weight="bold" font-style="normal" fill="#1a1a1a" style="color:#1a1a1a" >0.0</text>
<line x1="261.8" y1="582.7" x2="269.8" y2="582.7" stroke="#000" stroke-width="2" />
<text x="259.8" y="586.6" font-size="10.5" text-anchor="end" font-weight="bold" font-style="normal" fill="#1a1a1a" style="color:#1a1a1a" >-0.5</text>
<line x1="261.8" y1="652.8" x2="269.8" y2="652.8" stroke="#000" stroke-width="2" />
<text x="259.8" y="656.6999999999999" font-size="10.5" text-anchor="end" font-weight="bold" font-style="normal" fill="#1a1a1a" style="color:#1a1a1a" >-1.0</text>
<line x1="324.3" y1="652.8" x2="324.3" y2="660" stroke="#000" stroke-width="2" />
<text x="324.3" y="676.6" font-size="12.5" text-anchor="middle" font-weight="normal" font-style="normal" fill="#1a1a1a" style="color:#1a1a1a" >IRE1/XBP1</text>
<text x="372" y="544.5" font-size="12.5" text-anchor="start" font-weight="normal" font-style="normal" fill="#1a1a1a" style="color:#1a1a1a" >N=32</text>
<text x="0" y="0" font-size="12.75" text-anchor="middle" font-weight="normal" font-style="normal" fill="#1a1a1a" style="color:#1a1a1a" transform="translate(235.5 511.3) rotate(-90)">Log2FC (<tspan font-style="italic">ATF6[ex1D/ex1D]/control)</tspan></text>
<text x="356.6" y="387.6" font-size="13.1" text-anchor="start" font-weight="normal" font-style="italic" fill="#1a1a1a" style="color:#1a1a1a" >SNA1</text>
<text x="356.6" y="402.9" font-size="13.1" text-anchor="start" font-weight="normal" font-style="italic" fill="#1a1a1a" style="color:#1a1a1a" >GADD45A</text>
<text x="356.6" y="418.2" font-size="13.1" text-anchor="start" font-weight="normal" font-style="italic" fill="#1a1a1a" style="color:#1a1a1a" >ATF3</text>
<text x="356.6" y="433.5" font-size="13.1" text-anchor="start" font-weight="normal" font-style="italic" fill="#1a1a1a" style="color:#1a1a1a" >NDRG1</text>
<text x="356.6" y="448.8" font-size="13.1" text-anchor="start" font-weight="normal" font-style="italic" fill="#1a1a1a" style="color:#1a1a1a" >UFM1</text>
<text x="356.6" y="581.3" font-size="13.1" text-anchor="start" font-weight="normal" font-style="italic" fill="#1a1a1a" style="color:#1a1a1a" >STT3A</text>
<text x="356.6" y="596.5" font-size="13.1" text-anchor="start" font-weight="normal" font-style="italic" fill="#1a1a1a" style="color:#1a1a1a" >HSP90B1</text>
<text x="356.6" y="611.8" font-size="13.1" text-anchor="start" font-weight="normal" font-style="italic" fill="#1a1a1a" style="color:#1a1a1a" >HSPA5</text>
<text x="356.6" y="627.1" font-size="13.1" text-anchor="start" font-weight="normal" font-style="italic" fill="#1a1a1a" style="color:#1a1a1a" >LMAN1</text>
<text x="356.6" y="642.4" font-size="13.1" text-anchor="start" font-weight="normal" font-style="italic" fill="#1a1a1a" style="color:#1a1a1a" >PRDM1</text>
<line x1="553.2" y1="416.5" x2="553.2" y2="422" stroke="#000" stroke-width="2" />
<line x1="553.2" y1="570" x2="553.2" y2="583.5" stroke="#000" stroke-width="2" />
<path d="M553.20 422.00C553.28 423.00 553.45 426.00 553.70 428.00C553.95 430.00 554.40 432.08 554.70 434.00C555.00 435.92 555.43 437.67 555.50 439.50C555.57 441.33 555.32 443.42 555.10 445.00C554.88 446.58 554.45 447.83 554.20 449.00C553.95 450.17 553.62 451.00 553.60 452.00C553.58 453.00 553.83 454.00 554.10 455.00C554.37 456.00 554.80 457.15 555.20 458.00C555.60 458.85 555.90 459.35 556.50 460.10C557.10 460.85 557.82 461.63 558.80 462.50C559.78 463.37 560.97 463.98 562.40 465.30C563.83 466.62 566.13 468.87 567.40 470.40C568.67 471.93 569.45 473.23 570.00 474.50C570.55 475.77 570.83 476.75 570.70 478.00C570.57 479.25 569.90 480.42 569.20 482.00C568.50 483.58 566.58 485.83 566.50 487.50C566.42 489.17 567.50 490.42 568.70 492.00C569.90 493.58 572.15 495.33 573.70 497.00C575.25 498.67 577.00 500.33 578.00 502.00C579.00 503.67 579.75 505.50 579.70 507.00C579.65 508.50 578.78 509.67 577.70 511.00C576.62 512.33 574.62 513.67 573.20 515.00C571.78 516.33 570.27 517.83 569.20 519.00C568.13 520.17 567.43 521.00 566.80 522.00C566.17 523.00 565.92 524.08 565.40 525.00C564.88 525.92 564.20 526.33 563.70 527.50C563.20 528.67 562.78 530.25 562.40 532.00C562.02 533.75 561.73 536.17 561.40 538.00C561.07 539.83 560.77 541.50 560.40 543.00C560.03 544.50 559.65 545.67 559.20 547.00C558.75 548.33 558.13 549.67 557.70 551.00C557.27 552.33 556.88 553.50 556.60 555.00C556.32 556.50 556.27 558.33 556.00 560.00C555.73 561.67 555.47 563.33 555.00 565.00C554.53 566.67 553.50 569.17 553.20 570.00L553.20 570.00C552.90 569.17 551.87 566.67 551.40 565.00C550.93 563.33 550.67 561.67 550.40 560.00C550.13 558.33 550.08 556.50 549.80 555.00C549.52 553.50 549.13 552.33 548.70 551.00C548.27 549.67 547.65 548.33 547.20 547.00C546.75 545.67 546.37 544.50 546.00 543.00C545.63 541.50 545.33 539.83 545.00 538.00C544.67 536.17 544.38 533.75 544.00 532.00C543.62 530.25 543.20 528.67 542.70 527.50C542.20 526.33 541.52 525.92 541.00 525.00C540.48 524.08 540.23 523.00 539.60 522.00C538.97 521.00 538.27 520.17 537.20 519.00C536.13 517.83 534.62 516.33 533.20 515.00C531.78 513.67 529.78 512.33 528.70 511.00C527.62 509.67 526.75 508.50 526.70 507.00C526.65 505.50 527.40 503.67 528.40 502.00C529.40 500.33 531.15 498.67 532.70 497.00C534.25 495.33 536.50 493.58 537.70 492.00C538.90 490.42 539.98 489.17 539.90 487.50C539.82 485.83 537.90 483.58 537.20 482.00C536.50 480.42 535.83 479.25 535.70 478.00C535.57 476.75 535.85 475.77 536.40 474.50C536.95 473.23 537.73 471.93 539.00 470.40C540.27 468.87 542.57 466.62 544.00 465.30C545.43 463.98 546.62 463.37 547.60 462.50C548.58 461.63 549.30 460.85 549.90 460.10C550.50 459.35 550.80 458.85 551.20 458.00C551.60 457.15 552.03 456.00 552.30 455.00C552.57 454.00 552.82 453.00 552.80 452.00C552.78 451.00 552.45 450.17 552.20 449.00C551.95 447.83 551.52 446.58 551.30 445.00C551.08 443.42 550.83 441.33 550.90 439.50C550.97 437.67 551.40 435.92 551.70 434.00C552.00 432.08 552.45 430.00 552.70 428.00C552.95 426.00 553.12 423.00 553.20 422.00Z" fill="#e85652" stroke="#000" stroke-width="2" stroke-linejoin="round"/>
<line x1="499.4" y1="512.9" x2="608" y2="512.9" stroke="#5257ab" stroke-width="1.6" />
<path d="M539.85 479.6h.01M544.30 479.6h.01M548.75 479.6h.01M553.20 479.6h.01M557.65 479.6h.01M562.10 479.6h.01M566.55 479.6h.01" stroke="#000" stroke-width="2.0" stroke-linecap="round" fill="none"/>
<path d="M539.85 517.4h.01M544.30 517.4h.01M548.75 517.4h.01M553.20 517.4h.01M557.65 517.4h.01M562.10 517.4h.01M566.55 517.4h.01" stroke="#000" stroke-width="2.0" stroke-linecap="round" fill="none"/>
<line x1="528.688" y1="503.8" x2="577.7120000000001" y2="503.8" stroke="#000" stroke-width="3.0" stroke-dasharray="9.8 7.8" stroke-linecap="round"/>
<polyline points="553.2,421 553.2,416.5 586.4,379.4" stroke="#000" stroke-width="1.5" fill="none"/>
<line x1="555.8" y1="458.4" x2="586.4" y2="449.4" stroke="#000" stroke-width="1.5" />
<line x1="561.9" y1="543.8" x2="584.5" y2="571.2" stroke="#000" stroke-width="1.5" />
<polyline points="553.2,583.5 584.5,642.5" stroke="#000" stroke-width="1.5" fill="none"/>
<path d="M499.4 372.5V653H608" stroke="#000" stroke-width="2" fill="none"/>
<line x1="491.4" y1="372.40000000000003" x2="499.4" y2="372.40000000000003" stroke="#000" stroke-width="2" />
<text x="489.4" y="376.3" font-size="10.5" text-anchor="end" font-weight="bold" font-style="normal" fill="#1a1a1a" style="color:#1a1a1a" >1.0</text>
<line x1="491.4" y1="442.5" x2="499.4" y2="442.5" stroke="#000" stroke-width="2" />
<text x="489.4" y="446.4" font-size="10.5" text-anchor="end" font-weight="bold" font-style="normal" fill="#1a1a1a" style="color:#1a1a1a" >0.5</text>
<line x1="491.4" y1="512.6" x2="499.4" y2="512.6" stroke="#000" stroke-width="2" />
<text x="489.4" y="516.5" font-size="10.5" text-anchor="end" font-weight="bold" font-style="normal" fill="#1a1a1a" style="color:#1a1a1a" >0.0</text>
<line x1="491.4" y1="582.7" x2="499.4" y2="582.7" stroke="#000" stroke-width="2" />
<text x="489.4" y="586.6" font-size="10.5" text-anchor="end" font-weight="bold" font-style="normal" fill="#1a1a1a" style="color:#1a1a1a" >-0.5</text>
<line x1="491.4" y1="652.8" x2="499.4" y2="652.8" stroke="#000" stroke-width="2" />
<text x="489.4" y="656.6999999999999" font-size="10.5" text-anchor="end" font-weight="bold" font-style="normal" fill="#1a1a1a" style="color:#1a1a1a" >-1.0</text>
<line x1="553.2" y1="652.8" x2="553.2" y2="660" stroke="#000" stroke-width="2" />
<text x="553.2" y="676.6" font-size="12.5" text-anchor="middle" font-weight="normal" font-style="normal" fill="#1a1a1a" style="color:#1a1a1a" >PERK</text>
<text x="600" y="544.5" font-size="12.5" text-anchor="start" font-weight="normal" font-style="normal" fill="#1a1a1a" style="color:#1a1a1a" >N=31</text>
<text x="0" y="0" font-size="12.75" text-anchor="middle" font-weight="normal" font-style="normal" fill="#1a1a1a" style="color:#1a1a1a" transform="translate(465.09999999999997 511.3) rotate(-90)">Log2FC (<tspan font-style="italic">ATF6[ex1D/ex1D]/control)</tspan></text>
<text x="590.5" y="387.6" font-size="13.1" text-anchor="start" font-weight="normal" font-style="italic" fill="#e0262b" style="color:#e0262b" >LMO4</text>
<text x="590.5" y="402.9" font-size="13.1" text-anchor="start" font-weight="normal" font-style="italic" fill="#1a1a1a" style="color:#1a1a1a" >GADD45A</text>
<text x="590.5" y="418.2" font-size="13.1" text-anchor="start" font-weight="normal" font-style="italic" fill="#1a1a1a" style="color:#1a1a1a" >EIF4EBP1</text>
<text x="590.5" y="433.5" font-size="13.1" text-anchor="start" font-weight="normal" font-style="italic" fill="#1a1a1a" style="color:#1a1a1a" >ATF3</text>
<text x="590.5" y="448.8" font-size="13.1" text-anchor="start" font-weight="normal" font-style="italic" fill="#1a1a1a" style="color:#1a1a1a" >ASNS</text>
<text x="585.9" y="581.3" font-size="13.1" text-anchor="start" font-weight="normal" font-style="italic" fill="#1a1a1a" style="color:#1a1a1a" >HERPUD1</text>
<text x="585.9" y="596.5" font-size="13.1" text-anchor="start" font-weight="normal" font-style="italic" fill="#1a1a1a" style="color:#1a1a1a" >WFS1</text>
<text x="585.9" y="611.8" font-size="13.1" text-anchor="start" font-weight="normal" font-style="italic" fill="#1a1a1a" style="color:#1a1a1a" >DNAJB9</text>
<text x="585.9" y="627.1" font-size="13.1" text-anchor="start" font-weight="normal" font-style="italic" fill="#1a1a1a" style="color:#1a1a1a" >AARS</text>
<text x="585.9" y="642.4" font-size="13.1" text-anchor="start" font-weight="normal" font-style="italic" fill="#1a1a1a" style="color:#1a1a1a" >RELB</text>
<line x1="532" y1="369.5" x2="569.5" y2="369.5" stroke="#000" stroke-width="1.6" />
<path d="M551.15 355.50L551.15 363.70M547.60 357.55L554.70 361.65M554.70 357.55L547.60 361.65" stroke="#000" stroke-width="1.9" fill="none"/>
</svg></body></html>
